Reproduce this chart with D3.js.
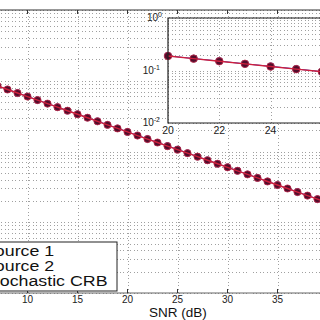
<!DOCTYPE html>
<html>
<head>
<meta charset="utf-8">
<script src="https://cdn.jsdelivr.net/npm/d3@7"></script>
<style>
  body { margin: 0; background: #fff; }
  svg { display: block; font-family: "Liberation Sans", Arial, sans-serif; }
  .grid line { stroke: #a0a0a0; stroke-dasharray: 1,2.5; shape-rendering: crispEdges; }
  .grid path { display: none; }
</style>
</head>
<body>
<div id="chart"></div>
<script>
var svgWidth = 320;
var svgHeight = 320;

// SNR points (dB)
var snr = [0, 1, 2, 3, 4, 5, 6, 7, 8, 9, 10, 11, 12, 13, 14, 15, 16, 17, 18, 19, 20,
  21, 22, 23, 24, 25, 26, 27, 28, 29, 30, 31, 32, 33, 34, 35, 36, 37, 38, 39, 40];

// RMSE
var source1 = [1.90, 1.69, 1.50, 1.34, 1.19, 1.07, 0.950, 0.848, 0.754, 0.672, 0.600,
  0.534, 0.476, 0.424, 0.378, 0.337, 0.301, 0.268, 0.239, 0.213, 0.190,
  0.169, 0.151, 0.134, 0.120, 0.107, 0.0950, 0.0848, 0.0755, 0.0672, 0.0600,
  0.0535, 0.0476, 0.0424, 0.0378, 0.0337, 0.0300, 0.0268, 0.0239, 0.0213, 0.0190];
var source2 = [1.89, 1.68, 1.50, 1.34, 1.19, 1.06, 0.948, 0.846, 0.752, 0.671, 0.598,
  0.533, 0.475, 0.423, 0.377, 0.336, 0.300, 0.267, 0.238, 0.212, 0.189,
  0.168, 0.150, 0.134, 0.119, 0.106, 0.0947, 0.0845, 0.0752, 0.0671, 0.0598,
  0.0533, 0.0475, 0.0423, 0.0377, 0.0336, 0.0300, 0.0267, 0.0238, 0.0212, 0.0189];
var crb = [1.89, 1.68, 1.50, 1.34, 1.19, 1.06, 0.947, 0.845, 0.752, 0.671, 0.598,
  0.533, 0.475, 0.423, 0.377, 0.336, 0.300, 0.267, 0.238, 0.212, 0.189,
  0.168, 0.150, 0.134, 0.119, 0.106, 0.0947, 0.0845, 0.0752, 0.0671, 0.0598,
  0.0533, 0.0475, 0.0423, 0.0377, 0.0336, 0.0300, 0.0267, 0.0238, 0.0212, 0.0189];

var legendLabels = ["Source 1", "Source 2", "Stochastic CRB"];
var xTicks = [0, 5, 10, 15, 20, 25, 30, 35, 40];
var xTickLabels = [10, 15, 20, 25, 30, 35];
var insetXTicks = [20, 22, 24, 26, 28, 30];
var insetXTickLabels = [20, 22, 24];
var insetYTicks = [1, 0.1, 0.01];
var insetYLabels = ["0", "-1", "-2"];

var rows = snr.map(function(s, i) {
  return { snr: s, s1: source1[i], s2: source2[i], crb: crb[i] };
});

var svg = d3.select("#chart")
  .append("svg")
  .attr("width", svgWidth)
  .attr("height", svgHeight);

// main axes: plot box runs off the picture on the left and right
var plotTop = 10, plotBottom = 293;
var x = d3.scaleLinear().domain([0, 40]).range([-72.5, 327.5]);
var y = d3.scaleLog().domain([1e-3, 10]).range([plotBottom, plotTop]);

// grid
svg.append("g")
  .attr("class", "grid")
  .attr("transform", `translate(0, ${plotBottom})`)
  .call(d3.axisBottom(x).tickValues(xTicks).tickSize(-(plotBottom - plotTop)).tickFormat(""));

svg.append("g")
  .attr("class", "grid")
  .attr("transform", `translate(${x(0)}, 0)`)
  .call(d3.axisLeft(y).tickSize(-(x(40) - x(0))).tickFormat(""));

// frame lines
svg.append("line").attr("x1", x(0)).attr("x2", x(40)).attr("y1", plotTop).attr("y2", plotTop)
  .attr("stroke", "#333").attr("stroke-width", 1.2);
svg.append("line").attr("x1", x(0)).attr("x2", x(40)).attr("y1", plotBottom).attr("y2", plotBottom)
  .attr("stroke", "#666").attr("stroke-width", 1);

// inward ticks on top and bottom
svg.selectAll(".ttick").data(xTicks).enter().append("line")
  .attr("x1", d => x(d)).attr("x2", d => x(d))
  .attr("y1", plotTop).attr("y2", plotTop + 4)
  .attr("stroke", "#333");
svg.selectAll(".btick").data(xTicks).enter().append("line")
  .attr("x1", d => x(d)).attr("x2", d => x(d))
  .attr("y1", plotBottom).attr("y2", plotBottom - 4)
  .attr("stroke", "#333");

// x tick labels
svg.selectAll(".xlab").data(xTickLabels).enter().append("text")
  .attr("x", d => x(d))
  .attr("y", 303)
  .attr("text-anchor", "middle")
  .attr("font-size", "10px")
  .attr("fill", "#222")
  .text(d => d);

svg.append("text")
  .attr("x", 178)
  .attr("y", 316.5)
  .attr("text-anchor", "middle")
  .attr("font-size", "13.5px")
  .attr("fill", "#111")
  .text("SNR (dB)");

// draw the three series into a group with given scales
function drawSeries(g, xs, ys, data, r) {
  var line = d3.line().x(d => xs(d.snr));
  g.append("path").datum(data)
    .attr("fill", "none").attr("stroke", "#1f2bd0").attr("stroke-width", 1)
    .attr("d", line.y(d => ys(d.s1)));
  g.selectAll(".m1").data(data).enter().append("circle")
    .attr("cx", d => xs(d.snr)).attr("cy", d => ys(d.s1)).attr("r", r)
    .attr("fill", "#3b2a8a");
  g.selectAll(".m2").data(data).enter().append("circle")
    .attr("cx", d => xs(d.snr)).attr("cy", d => ys(d.s2)).attr("r", r)
    .attr("fill", "#520d2c").attr("stroke", "#c8304e").attr("stroke-width", 0.8);
  g.append("path").datum(data)
    .attr("fill", "none").attr("stroke", "#d0203c").attr("stroke-width", 1.4)
    .attr("d", d3.line().x(d => xs(d.snr)).y(d => ys(d.crb)));
}

drawSeries(svg.append("g"), x, y, rows, 3.6);

// inset
var iTop = 18, iBottom = 123, iLeft = 168;
var xi = d3.scaleLinear().domain([20, 30]).range([iLeft, iLeft + 256.5]);
var yi = d3.scaleLog().domain([0.01, 1]).range([iBottom, iTop]);

var inset = svg.append("g");
inset.append("rect")
  .attr("x", iLeft).attr("y", iTop)
  .attr("width", xi(30) - iLeft).attr("height", iBottom - iTop)
  .attr("fill", "#fff");

inset.append("g")
  .attr("class", "grid")
  .attr("transform", `translate(0, ${iBottom})`)
  .call(d3.axisBottom(xi).tickValues(insetXTicks).tickSize(-(iBottom - iTop)).tickFormat(""));
inset.append("g")
  .attr("class", "grid")
  .attr("transform", `translate(${iLeft}, 0)`)
  .call(d3.axisLeft(yi).tickSize(-(xi(30) - iLeft)).tickFormat(""));

drawSeries(inset.append("g"), xi, yi, rows.filter(d => d.snr >= 20 && d.snr <= 30), 3.8);

inset.append("path")
  .attr("d", `M${xi(30)},${iTop}H${iLeft}V${iBottom}H${xi(30)}`)
  .attr("fill", "none").attr("stroke", "#222").attr("stroke-width", 1.2);

inset.selectAll(".ixlab").data(insetXTickLabels).enter().append("text")
  .attr("x", d => xi(d))
  .attr("y", 134)
  .attr("text-anchor", "middle")
  .attr("font-size", "10.5px")
  .attr("fill", "#222")
  .text(d => d);

var iyl = inset.selectAll(".iylab").data(insetYTicks).enter().append("text")
  .attr("x", (d, i) => iLeft - (i === 0 ? 6 : 8))
  .attr("y", d => yi(d) + 3)
  .attr("text-anchor", "end")
  .attr("font-size", "10px")
  .attr("fill", "#222");
iyl.append("tspan").text("10");
iyl.append("tspan")
  .attr("dy", -4)
  .attr("font-size", "7px")
  .text((d, i) => insetYLabels[i]);

// legend (box continues past the left edge)
var legend = svg.append("g");
legend.append("rect")
  .attr("x", -30).attr("y", 242)
  .attr("width", 147).attr("height", 49)
  .attr("fill", "#fff").attr("stroke", "#222").attr("stroke-width", 1);

legend.selectAll("text").data(legendLabels).enter().append("text")
  .attr("transform", (d, i) => `translate(-17, ${256 + i * 15}) scale(1.27, 1)`)
  .attr("font-size", "14px")
  .attr("fill", "#111")
  .text(d => d);
</script>
</body>
</html>
